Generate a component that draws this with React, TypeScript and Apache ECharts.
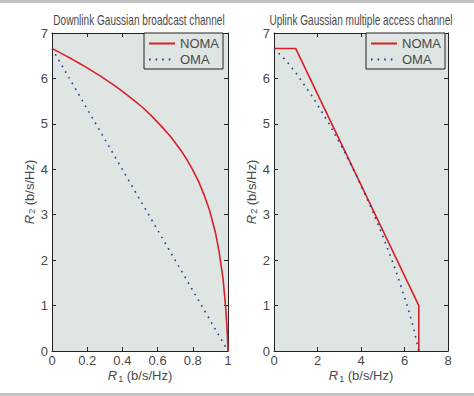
import React, { useEffect, useRef } from "react";
import * as echarts from "echarts";

const seriesNames = ["NOMA", "OMA"];
const titles = ["Downlink Gaussian broadcast channel", "Uplink Gaussian multiple access channel"];

// Downlink (broadcast) boundary points [R1, R2]
const bcNoma: [number, number][] = [
  [0, 6.658], [0.037, 6.585], [0.074, 6.508], [0.113, 6.426], [0.152, 6.34],
  [0.193, 6.248], [0.234, 6.15], [0.278, 6.044], [0.322, 5.93], [0.368, 5.807],
  [0.415, 5.67], [0.464, 5.524], [0.515, 5.36], [0.567, 5.17], [0.621, 4.95],
  [0.678, 4.7], [0.737, 4.39], [0.767, 4.209], [0.798, 4.0], [0.83, 3.755],
  [0.862, 3.46], [0.896, 3.087], [0.93, 2.585], [0.95, 2.17], [0.972, 1.585],
  [0.986, 1.0], [0.993, 0.585], [0.996, 0.379], [1, 0],
];
const bcOma: [number, number][] = [[0, 6.658], [1, 0]];

// Uplink (multiple access) boundary points [R1, R2]
const macNoma: [number, number][] = [[0, 6.658], [1, 6.658], [6.658, 1], [6.658, 0]];
const macOma: [number, number][] = [
  [0, 6.658], [0.548, 6.394], [0.997, 6.128], [1.794, 5.582], [2.516, 5.017],
  [3.188, 4.434], [3.825, 3.825], [4.434, 3.188], [5.017, 2.516], [5.582, 1.794],
  [6.128, 0.997], [6.394, 0.548], [6.658, 0],
];

const yTicks = [0, 7, 1];
const xLeft = [0, 1, 0.2];
const xRight = [0, 8, 2];

const FONT = "'Liberation Sans', Arial, sans-serif";
const RED = "#d92028";
const BLUE = "#1d3f8f";
const BG = "#dfe5e2";
const TXT = "#4a4a4a";

export default function App() {
  const ref = useRef<HTMLDivElement>(null);
  useEffect(() => {
    const chart = echarts.init(ref.current!, undefined, { renderer: "svg" });
    const grids = [
      { left: 52, right: 246, top: 33, bottom: 45 },
      { left: 274, right: 26, top: 33, bottom: 45 },
    ];
    const rich = {
      i: { fontStyle: "italic", fontSize: 13, fontFamily: FONT, color: TXT },
      s: { fontSize: 9, fontFamily: FONT, color: TXT, verticalAlign: "bottom", padding: [6, 0, 0, 1] },
      n: { fontSize: 13, fontFamily: FONT, color: TXT },
    };
    const axLine = { show: true, lineStyle: { color: "#222", width: 1 } };
    const tick = { inside: true, length: 4, lineStyle: { color: "#222" } };
    const xAxes: any[] = [];
    const yAxes: any[] = [];
    [xLeft, xRight].forEach((xr, gi) => {
      xAxes.push({
        type: "value", gridIndex: gi, min: xr[0], max: xr[1], interval: xr[2],
        axisLine: { ...axLine, onZero: false }, axisTick: tick,
        splitLine: { show: false },
        axisLabel: { fontFamily: FONT, fontSize: 13, color: TXT, margin: 3, lineHeight: 13 },
        name: "{i|R}{s|1}{n| (b/s/Hz)}", nameLocation: "middle", nameGap: 17,
        nameMoveOverlap: false,
        nameTextStyle: { rich },
      });
      xAxes.push({
        type: "value", gridIndex: gi, position: "top", min: xr[0], max: xr[1], interval: xr[2],
        axisLine: { ...axLine, onZero: false }, axisTick: tick,
        splitLine: { show: false }, axisLabel: { show: false },
      });
      yAxes.push({
        type: "value", gridIndex: gi, min: yTicks[0], max: yTicks[1], interval: yTicks[2],
        axisLine: { ...axLine, onZero: false }, axisTick: tick,
        splitLine: { show: false },
        axisLabel: { fontFamily: FONT, fontSize: 13, color: TXT, margin: 4 },
        name: "{i|R}{s|2}{n| (b/s/Hz)}", nameLocation: "middle", nameGap: 14, nameRotate: 90,
        nameTextStyle: { rich },
      });
      yAxes.push({
        type: "value", gridIndex: gi, position: "right", min: yTicks[0], max: yTicks[1], interval: yTicks[2],
        axisLine: { ...axLine, onZero: false }, axisTick: tick,
        splitLine: { show: false }, axisLabel: { show: false },
      });
    });
    const mk = (name: string, data: [number, number][], gi: number, dotted: boolean) => ({
      type: "line", name, data, xAxisIndex: gi * 2, yAxisIndex: gi * 2,
      showSymbol: false, symbol: "none", smooth: false,
      lineStyle: dotted
        ? { color: BLUE, width: 1.6, type: [1.6, 5] }
        : { color: RED, width: 1.6, type: "solid" },
      itemStyle: { color: dotted ? BLUE : RED },
    });
    const legend = (right: number) => ({
      right, top: 33, orient: "vertical", data: seriesNames,
      itemWidth: 26, itemHeight: 12, itemGap: 3, padding: [4, 4, 3, 4],
      borderColor: "#222", borderWidth: 1, backgroundColor: BG,
      itemStyle: { color: "rgba(0,0,0,0)", borderWidth: 0, borderColor: "rgba(0,0,0,0)" },
      textStyle: { fontFamily: FONT, fontSize: 13, color: TXT },
      selectedMode: false,
    });
    const titleText = (x: number, text: string) => ({
      type: "text", x, y: 13, scaleX: 0.72,
      style: { text, fill: TXT, font: `14px ${FONT}`, textAlign: "center" },
    });
    chart.setOption({
      animation: false,
      backgroundColor: "#fff",
      graphic: [
        { type: "rect", left: 0, top: 0, shape: { width: 474, height: 3 }, style: { fill: "#c4c4c4" } },
        { type: "rect", left: 0, top: 393, shape: { width: 474, height: 3 }, style: { fill: "#c4c4c4" } },
        titleText(139, titles[0]),
        titleText(361, titles[1]),
      ],
      grid: grids.map((g) => ({ ...g, show: true, backgroundColor: BG, borderWidth: 0 })),
      xAxis: xAxes,
      yAxis: yAxes,
      legend: [legend(251), legend(29)],
      series: [
        mk(seriesNames[0], bcNoma, 0, false),
        mk(seriesNames[1], bcOma, 0, true),
        mk(seriesNames[0], macNoma, 1, false),
        mk(seriesNames[1], macOma, 1, true),
      ],
    });
    return () => chart.dispose();
  }, []);
  return <div ref={ref} style={{ width: 474, height: 396, position: "absolute", left: 0, top: 0 }} />;
}
